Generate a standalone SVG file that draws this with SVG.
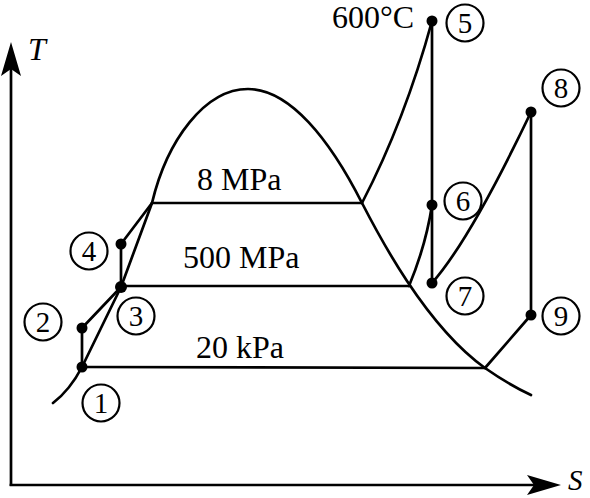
<svg xmlns="http://www.w3.org/2000/svg" width="590" height="498" viewBox="0 0 590 498">
<style>
.ln{fill:none;stroke:#000;stroke-width:2.7;stroke-linecap:round;stroke-linejoin:round}
.ax{fill:none;stroke:#000;stroke-width:2.7}
.dot{fill:#000}
.cir{fill:#fff;stroke:#000;stroke-width:2.2}
.num{font-family:"Liberation Serif","Times New Roman",serif;font-size:29px;text-anchor:middle;fill:#000}
.lbl{font-family:"Liberation Serif","Times New Roman",serif;font-size:32px;fill:#000}
.axl{font-family:"Liberation Serif","Times New Roman",serif;font-size:32px;font-style:italic;fill:#000}
</style>
<rect width="590" height="498" fill="#fff"/>
<g id="axes">
<line class="ax" x1="11" y1="66" x2="11" y2="486"/>
<line class="ax" x1="9.65" y1="485" x2="536" y2="485"/>
<path d="M11,42 L21,76 L11,69 L1,76 Z" fill="#000"/>
<path d="M561,485 L527,495 L534,485 L527,475 Z" fill="#000"/>
<text class="axl" x="28" y="60">T</text>
<text class="axl" x="568" y="490" style="font-size:29px">S</text>
</g>
<g id="connectors">
<path id="dome" class="ln" d="M53,403 Q70,390 82,367 L121,287 L152,203 C167,140 205,89 248,89 C290,89 330,140 362,203 C378,234 425,325 485,368 C505,382 518,389 531,395"/>
<line class="ln" x1="152" y1="203" x2="362" y2="203"/>
<line class="ln" x1="121" y1="286" x2="409" y2="286"/>
<line class="ln" x1="82" y1="367" x2="485" y2="368"/>
<line class="ln" x1="82" y1="367" x2="82" y2="328"/>
<line class="ln" x1="82" y1="328" x2="121" y2="287"/>
<line class="ln" x1="121" y1="287" x2="121" y2="244"/>
<line class="ln" x1="121" y1="244" x2="152" y2="203"/>
<path class="ln" d="M362,203 Q405,120 432,21"/>
<line class="ln" x1="432" y1="21" x2="432" y2="283"/>
<path class="ln" d="M409,286 Q426,245 432,205"/>
<path class="ln" d="M432,283 Q470,240 531,112"/>
<line class="ln" x1="531" y1="112" x2="531" y2="315"/>
<line class="ln" x1="531" y1="315" x2="485" y2="368"/>
</g>
<g id="labels">
<text class="lbl" x="197" y="190">8 MPa</text>
<text class="lbl" x="183" y="268">500 MPa</text>
<text class="lbl" x="196" y="358">20 kPa</text>
<text class="lbl" x="332" y="28">600°C</text>
</g>
<g id="p1"><circle class="dot" cx="82" cy="367" r="5.5"/><circle class="cir" cx="101" cy="403" r="18.5"/><text class="num" x="101" y="413">1</text></g>
<g id="p2"><circle class="dot" cx="82" cy="328" r="5.5"/><circle class="cir" cx="43" cy="322" r="18.5"/><text class="num" x="43" y="332">2</text></g>
<g id="p3"><circle class="dot" cx="121" cy="287" r="6"/><circle class="cir" cx="136" cy="316" r="18.5"/><text class="num" x="136" y="326">3</text></g>
<g id="p4"><circle class="dot" cx="121" cy="244" r="5.5"/><circle class="cir" cx="89" cy="251" r="18.5"/><text class="num" x="89" y="261">4</text></g>
<g id="p5"><circle class="dot" cx="432" cy="21" r="5.5"/><circle class="cir" cx="465" cy="23" r="18.5"/><text class="num" x="465" y="33">5</text></g>
<g id="p6"><circle class="dot" cx="432" cy="205" r="5.5"/><circle class="cir" cx="463" cy="201" r="18.5"/><text class="num" x="463" y="211">6</text></g>
<g id="p7"><circle class="dot" cx="432" cy="283" r="5.5"/><circle class="cir" cx="465" cy="296" r="18.5"/><text class="num" x="465" y="306">7</text></g>
<g id="p8"><circle class="dot" cx="531" cy="112" r="5.5"/><circle class="cir" cx="561" cy="88" r="18.5"/><text class="num" x="561" y="98">8</text></g>
<g id="p9"><circle class="dot" cx="531" cy="315" r="5.5"/><circle class="cir" cx="561" cy="316" r="18.5"/><text class="num" x="561" y="326">9</text></g>
</svg>
